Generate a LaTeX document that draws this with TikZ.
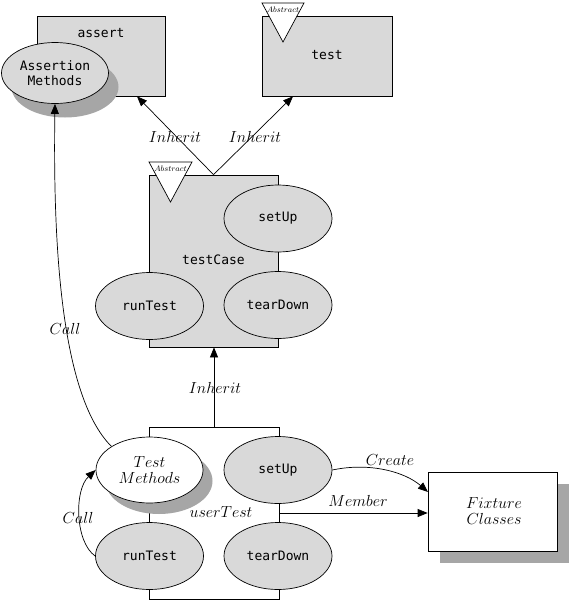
\RequirePackage{fix-cm}
\documentclass[tikz,border=0pt]{standalone}
\usepackage{fontspec}
\newfontfamily\monofam{DejaVu Sans Mono}
\usetikzlibrary{arrows.meta,shapes.geometric,calc}
\definecolor{boxgray}{HTML}{D9D9D9}
\definecolor{shadowgray}{HTML}{A6A6A6}
\tikzset{
  box/.style={draw, fill=boxgray, line width=0.7pt, inner sep=0pt},
  wbox/.style={draw, fill=white, line width=0.7pt, inner sep=0pt},
  oval/.style={ellipse, draw, fill=boxgray, line width=0.7pt, inner sep=0pt,
    minimum width=108pt, minimum height=67pt, font=\monofam\fontsize{13}{14.5}\selectfont, align=center},
  shad/.style={fill=shadowgray, draw=none, inner sep=0pt},
  mono/.style={font=\monofam\fontsize{13}{14.5}\selectfont, align=center, inner sep=0pt},
  lbl/.style={font=\fontsize{16}{19}\selectfont, align=center, inner sep=0pt},
  arr/.style={-{Triangle[length=10pt,width=8pt]}, line width=0.7pt},
  absttri/.style={draw, fill=white, line width=0.7pt},
}
\begin{document}
\begin{tikzpicture}[x=1pt,y=-1pt]
\useasboundingbox (0,0) rectangle (569,600);
% boxes
\node[box, minimum width=128pt, minimum height=80pt] (ab) at (101,56) {};
\node[mono] (abt) at (101,33) {assert};
\node[box, minimum width=130pt, minimum height=80pt] (tb) at (327,56) {};
\node[mono] (tbt) at (327,55) {test};
\node[box, minimum width=129pt, minimum height=172pt] (tc) at (213.5,261) {};
\node[mono] (tct) at (213.5,260) {testCase};
\node[wbox, minimum width=130pt, minimum height=172pt] (ut) at (214,513) {};
\node[lbl] (utt) at (221,512) {$userTest$};
% fixture
\node[shad, minimum width=129pt, minimum height=79pt] (fcs) at (504.5,523.5) {};
\node[wbox, minimum width=129pt, minimum height=79pt] (fc) at (492.5,511.5) {};
\node[lbl] (fct) at (494,511.5) {$Fixture$\\[-3pt]$Classes$};
% abstract triangles
\draw[absttri] (262,3) -- (304,3) -- (283,42) -- cycle;
\node[font=\fontsize{8}{9}\selectfont, inner sep=0pt] (abs1) at (283,9.5) {$Abstract$};
\draw[absttri] (149,162) -- (192,162) -- (170.5,202) -- cycle;
\node[font=\fontsize{8}{9}\selectfont, inner sep=0pt] (abs2) at (170.5,168.5) {$Abstract$};
% ellipses
\node[shad, ellipse, minimum width=107pt, minimum height=61pt] (ams) at (65,87) {};
\node[oval, minimum width=107pt, minimum height=61pt] (am) at (55,73) {Assertion\\Methods};
\node[oval] (su1) at (278,218.5) {setUp};
\node[oval] (rt1) at (149.5,306) {runTest};
\node[oval] (td1) at (278,305) {tearDown};
\node[shad, ellipse, minimum width=107pt, minimum height=66pt] (tms) at (159,481) {};
\node[oval, fill=white, minimum width=107pt, minimum height=66pt, font=\fontsize{16}{19}\selectfont] (tm) at (149.5,470) {$Test$\\[-3pt]$Methods$};
\node[oval] (su2) at (278,470) {setUp};
\node[oval] (rt2) at (149.5,556) {runTest};
\node[oval] (td2) at (278,556) {tearDown};
% connectors
\draw[arr] (tc.north) -- ($(ab.south)+(36,0)$);
\draw[arr] (tc.north) -- ($(tb.south)+(-34,0)$);
\node[lbl] (inh1) at (175,137) {$Inherit$};
\node[lbl] (inh2) at (255,137) {$Inherit$};
\draw[arr] (ut.north) -- (tc.south -| ut.north);
\node[lbl] (inh3) at (215,388) {$Inherit$};
\draw[arr] (tm.north west) .. controls (60,395) and (53,240) .. (am.south);
\node[lbl] (call1) at (65,329) {$Call$};
\draw[arr] (rt2.west) .. controls (75,542) and (74,490) .. (tm.west);
\node[lbl] (call2) at (78,518) {$Call$};
\coordinate (fcc) at (428,492);
\draw[arr] (su2.east) .. controls (370,462) and (405,472) .. (fcc);
\node[lbl] (cre) at (390,460) {$Create$};
\draw[arr] (ut.east) -- (ut.east -| fc.west);
\node[lbl] (mem) at (358,501) {$Member$};
\end{tikzpicture}
\end{document}
